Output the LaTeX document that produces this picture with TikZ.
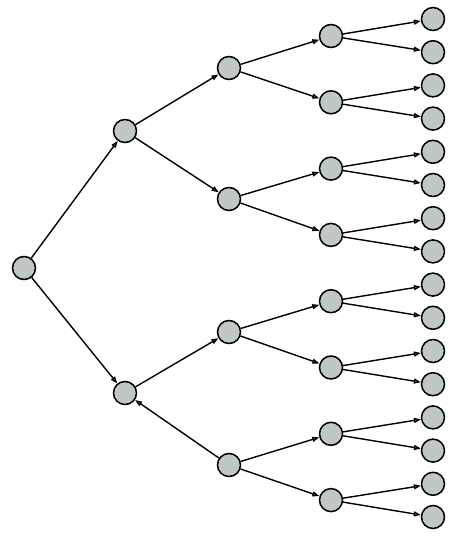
\documentclass[tikz,border=0pt]{standalone}
\usetikzlibrary{arrows.meta}
\definecolor{nodegray}{RGB}{192,200,196}
\begin{document}
\begin{tikzpicture}[x=1pt, y=-1pt, thick]
  \tikzstyle{vertex}=[draw, circle, fill=nodegray, line width=1.5pt, minimum size=23pt, inner sep=0pt]
  \tikzstyle{branch}=[line width=1.4pt, -{Triangle[length=7pt, width=5pt, fill=gray!60]}]
  \useasboundingbox (0,0) rectangle (474,538);
  % root and first two levels
  \node[vertex] (r) at (24,268) {};
  \foreach \y/\i in {131/1, 393/2}
    \node[vertex] (a\i) at (125,\y) {};
  \foreach \y/\i in {68/1, 199/2, 332/3, 465/4}
    \node[vertex] (b\i) at (229,\y) {};
  % third level and leaves
  \foreach \i in {1,...,8}
    \node[vertex] (c\i) at (331,{36+66.3*(\i-1)}) {};
  \foreach \i in {1,...,16}
    \node[vertex] (d\i) at (433,{19+33.2*(\i-1)}) {};

  \path[branch] (r) edge (a1);
  \path[branch] (r) edge (a2);
  \path[branch] (a1) edge (b1);
  \path[branch] (a1) edge (b2);
  \path[branch] (a2) edge (b3);
  \path[branch] (b4) edge (a2);
  \foreach \p/\c in {b1/c1,b1/c2,b2/c3,b2/c4,b3/c5,b3/c6,b4/c7,b4/c8}
    \path[branch] (\p) edge (\c);
  \foreach \p/\c in {c1/d1,c1/d2,c2/d3,c2/d4,c3/d5,c3/d6,c4/d7,c4/d8,c5/d9,c5/d10,c6/d11,c6/d12,c7/d13,c7/d14,c8/d15,c8/d16}
    \path[branch] (\p) edge (\c);
\end{tikzpicture}
\end{document}
